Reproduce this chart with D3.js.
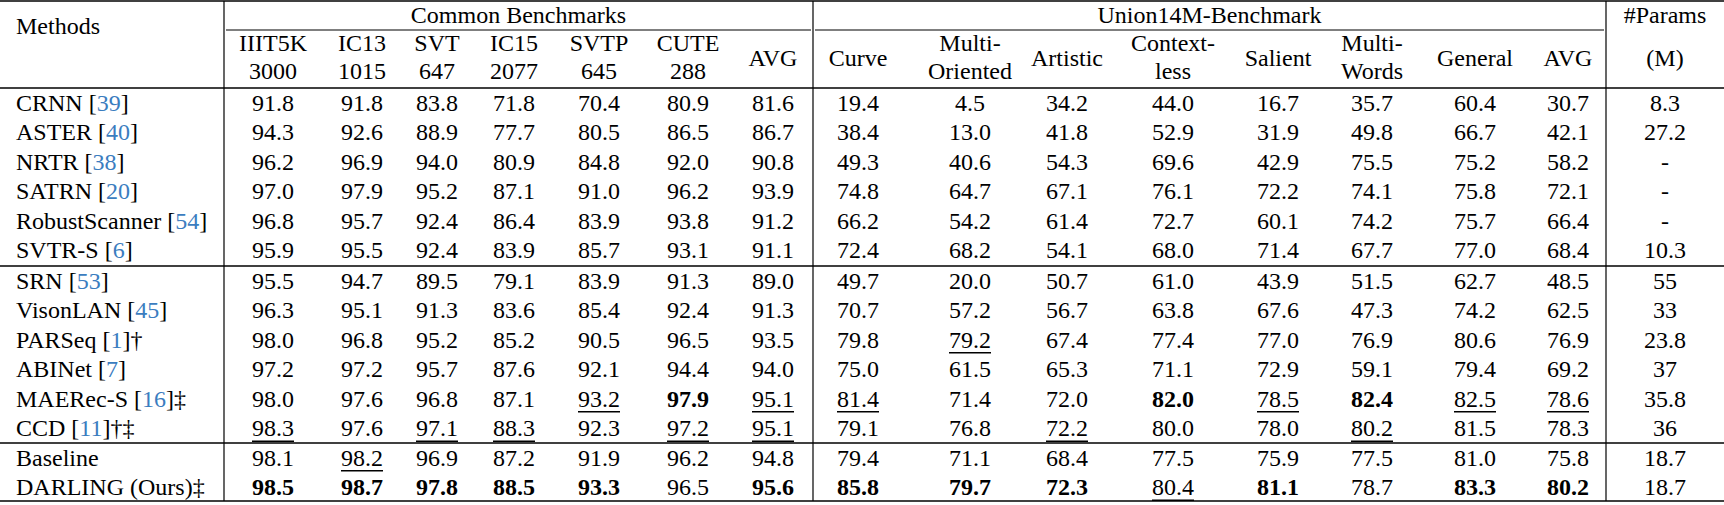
<!DOCTYPE html>
<html><head><meta charset="utf-8">
<script src="https://cdn.jsdelivr.net/npm/d3@7"></script>
<style>body{margin:0;background:#fff}</style>
</head><body>
<svg id="c" width="1724" height="505"></svg>
<script>
// "*" = bold, "_" = underlined
const methods = ["CRNN","ASTER","NRTR","SATRN","RobustScanner","SVTR-S","SRN","VisonLAN","PARSeq","ABINet","MAERec-S","CCD","Baseline","DARLING (Ours)"];
const cites = ["39","40","38","20","54","6","53","45","1","7","16","11","",""];
const marks = ["","","","","","","","","†","","‡","†‡","","‡"];
const commonCols = [["IIIT5K","3000"],["IC13","1015"],["SVT","647"],["IC15","2077"],["SVTP","645"],["CUTE","288"],["AVG"]];
const unionCols = [["Curve"],["Multi-","Oriented"],["Artistic"],["Context-","less"],["Salient"],["Multi-","Words"],["General"],["AVG"]];
const commonVals = [
["91.8","91.8","83.8","71.8","70.4","80.9","81.6"],
["94.3","92.6","88.9","77.7","80.5","86.5","86.7"],
["96.2","96.9","94.0","80.9","84.8","92.0","90.8"],
["97.0","97.9","95.2","87.1","91.0","96.2","93.9"],
["96.8","95.7","92.4","86.4","83.9","93.8","91.2"],
["95.9","95.5","92.4","83.9","85.7","93.1","91.1"],
["95.5","94.7","89.5","79.1","83.9","91.3","89.0"],
["96.3","95.1","91.3","83.6","85.4","92.4","91.3"],
["98.0","96.8","95.2","85.2","90.5","96.5","93.5"],
["97.2","97.2","95.7","87.6","92.1","94.4","94.0"],
["98.0","97.6","96.8","87.1","_93.2","*97.9","_95.1"],
["_98.3","97.6","_97.1","_88.3","92.3","_97.2","_95.1"],
["98.1","_98.2","96.9","87.2","91.9","96.2","94.8"],
["*98.5","*98.7","*97.8","*88.5","*93.3","96.5","*95.6"]];
const unionVals = [
["19.4","4.5","34.2","44.0","16.7","35.7","60.4","30.7"],
["38.4","13.0","41.8","52.9","31.9","49.8","66.7","42.1"],
["49.3","40.6","54.3","69.6","42.9","75.5","75.2","58.2"],
["74.8","64.7","67.1","76.1","72.2","74.1","75.8","72.1"],
["66.2","54.2","61.4","72.7","60.1","74.2","75.7","66.4"],
["72.4","68.2","54.1","68.0","71.4","67.7","77.0","68.4"],
["49.7","20.0","50.7","61.0","43.9","51.5","62.7","48.5"],
["70.7","57.2","56.7","63.8","67.6","47.3","74.2","62.5"],
["79.8","_79.2","67.4","77.4","77.0","76.9","80.6","76.9"],
["75.0","61.5","65.3","71.1","72.9","59.1","79.4","69.2"],
["_81.4","71.4","72.0","*82.0","_78.5","*82.4","_82.5","_78.6"],
["79.1","76.8","_72.2","80.0","78.0","_80.2","81.5","78.3"],
["79.4","71.1","68.4","77.5","75.9","77.5","81.0","75.8"],
["*85.8","*79.7","*72.3","_80.4","*81.1","78.7","*83.3","*80.2"]];
const params = ["8.3","27.2","-","-","-","10.3","55","33","23.8","37","35.8","36","18.7","18.7"];

const svg = d3.select("#c");
const F = "'Liberation Serif','Times New Roman',serif";
const fs = 24;
const colKeys = d3.range(16);
const x = d3.scaleOrdinal().domain(colKeys).range([273,362,437,514,599,688,773,858,970,1067,1173,1278,1372,1475,1568,1665]);
const blocks = [[0,6],[6,12],[12,14]];
const blockTop = [88,266,443], rowH = 29.5;
const y = i => { const b = i<6?0:i<12?1:2; const s = blocks[b][0]; return blockTop[b] + (i-s+0.5)*rowH; };

const line = (x1,y1,x2,y2,w=1.4)=>svg.append("line").attr("x1",x1).attr("y1",y1).attr("x2",x2).attr("y2",y2).attr("stroke","#000").attr("stroke-width",w);
line(0,1,1724,1,1.6); line(0,88,1724,88); line(0,266,1724,266); line(0,443,1724,443); line(0,501,1724,501,1.6);
line(226,30,811,30,1.2); line(815,30,1604,30,1.2);
[224,813,1606].forEach(v=>line(v,1,v,501,1.2));

const txt = (t,xx,yy,anchor="middle",bold=false)=>svg.append("text").attr("x",xx).attr("y",yy).attr("text-anchor",anchor)
  .attr("dominant-baseline","central").attr("font-family",F).attr("font-size",fs).attr("font-weight",bold?"bold":"normal").text(t);

txt("Methods",16,26,"start");
txt("Common Benchmarks",(224+813)/2,15);
txt("Union14M-Benchmark",(813+1606)/2,15);
txt("#Params",1665,15);
txt("(M)",1665,58);
const heads = commonCols.concat(unionCols);
heads.forEach((h,j)=>{
  if(h.length===2){ txt(h[0],x(j),43); txt(h[1],x(j),71); }
  else txt(h[0],x(j),58);
});

methods.forEach((m,i)=>{
  const t = svg.append("text").attr("x",16).attr("y",y(i)).attr("dominant-baseline","central")
    .attr("font-family",F).attr("font-size",fs);
  t.append("tspan").text(m + (cites[i]?" [":""));
  if(cites[i]){ t.append("tspan").attr("fill","#3b7dbf").text(cites[i]); t.append("tspan").text("]"); }
  if(marks[i]) t.append("tspan").text(marks[i]);
  const vals = commonVals[i].concat(unionVals[i]);
  vals.forEach((v,j)=>{
    const bold = v[0]==="*", ul = v[0]==="_";
    const s = (bold||ul)?v.slice(1):v;
    const node = txt(s,x(j),y(i),"middle",bold);
    if(ul){ const w = node.node().getComputedTextLength(); line(x(j)-w/2,y(i)+13,x(j)+w/2,y(i)+13,1.3); }
  });
  txt(params[i],1665,y(i));
});
</script>
</body></html>
